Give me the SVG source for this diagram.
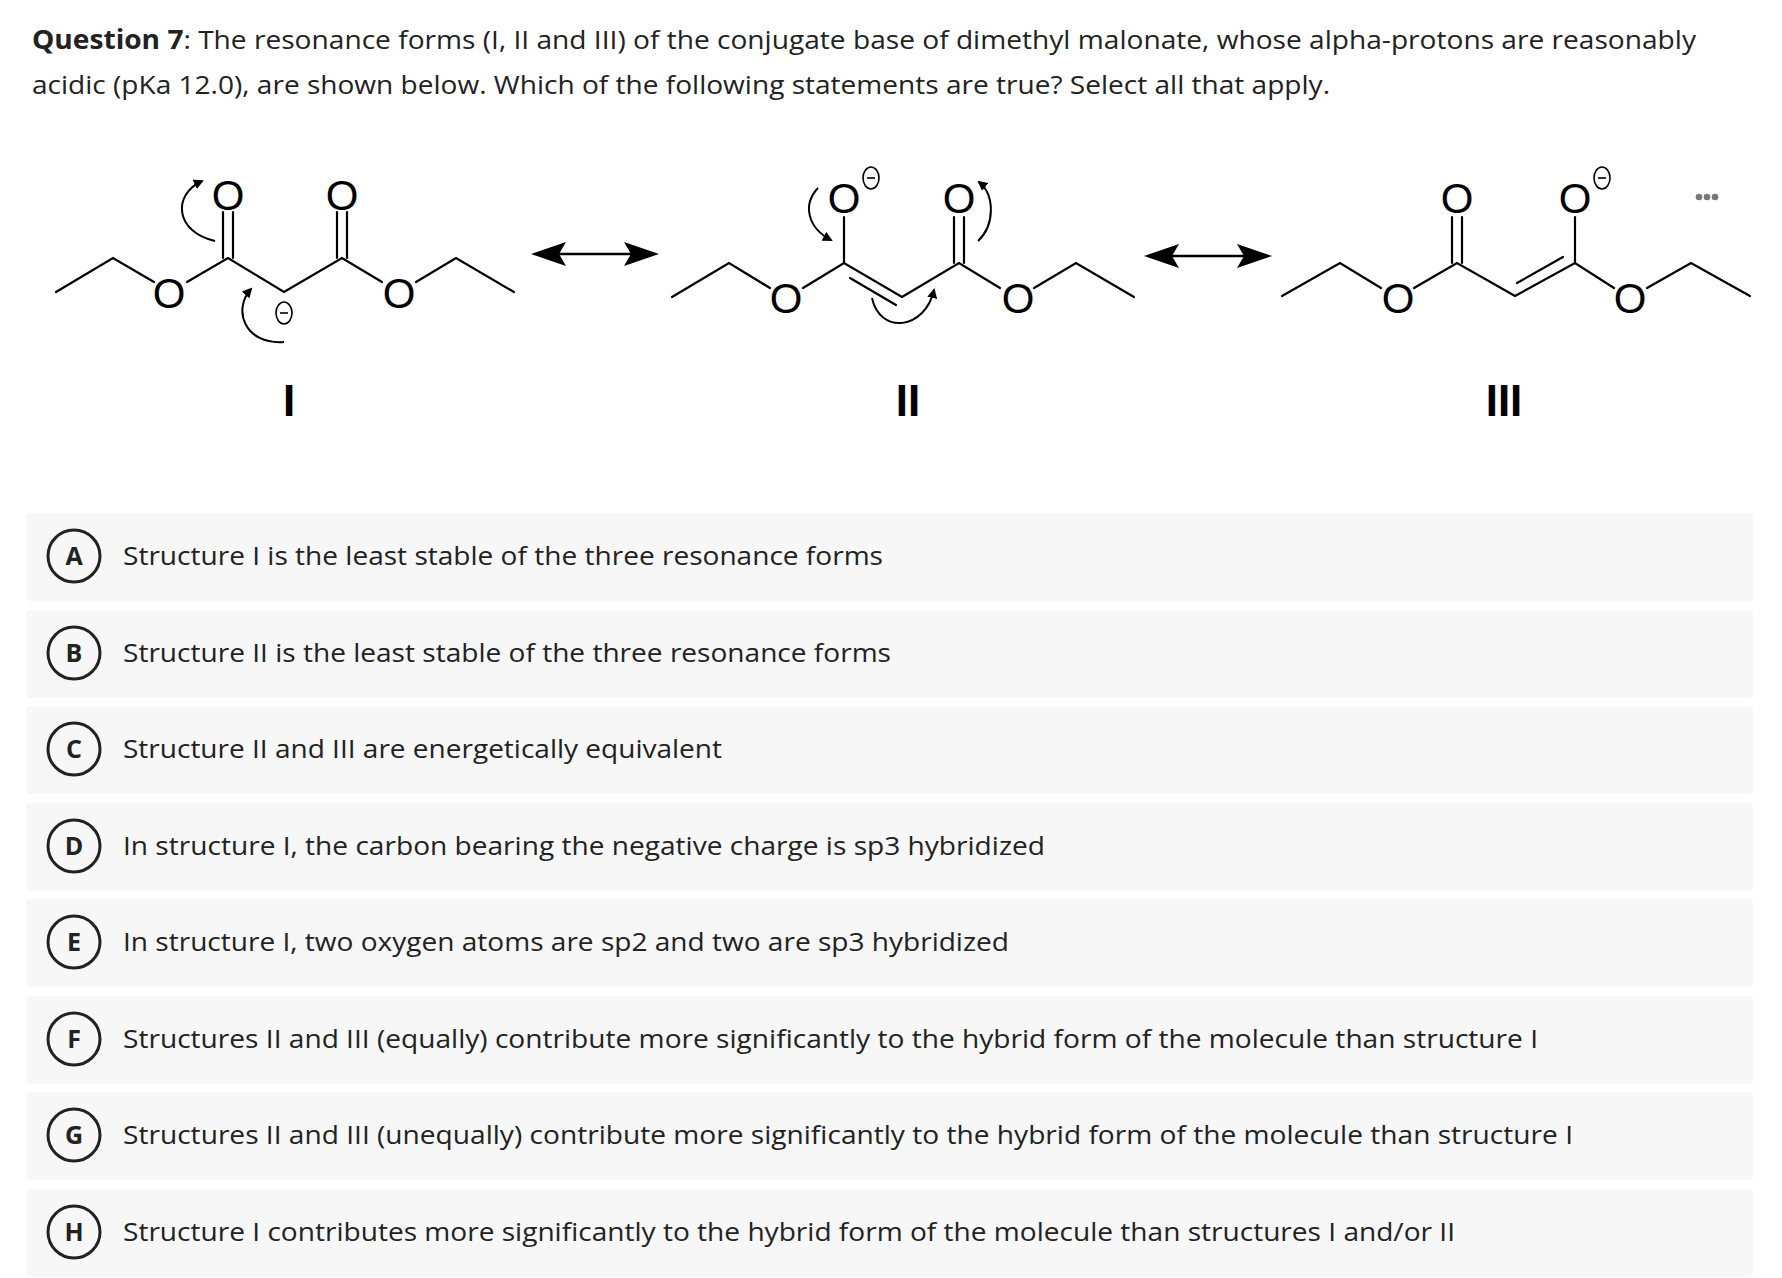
<svg xmlns="http://www.w3.org/2000/svg" width="1782" height="1278" viewBox="0 0 1782 1278">
<style>
.t{font-family:"Open Sans","Liberation Sans",sans-serif;fill:#222}
.b{stroke:#000;stroke-width:2.2;fill:none;stroke-linecap:round}
.o{font-family:"Liberation Sans",Arial,sans-serif;font-size:42px;fill:#000;text-anchor:middle}
.lbl{font-family:"Liberation Sans",Arial,sans-serif;font-size:44px;font-weight:bold;fill:#000;text-anchor:middle}
.box{fill:#f7f7f7}
.circ{fill:none;stroke:#222;stroke-width:3}
.let{font-family:"Open Sans","Liberation Sans",sans-serif;font-size:25px;font-weight:bold;fill:#222;text-anchor:middle}
.opt{font-family:"Open Sans","Liberation Sans",sans-serif;font-size:25px;fill:#222}
.ch{fill:none;stroke:#000;stroke-width:1.6}
.cur{stroke:#000;stroke-width:2;fill:none;marker-end:url(#ah)}
</style>
<defs>
<marker id="ah" viewBox="0 0 10 10" refX="8" refY="5" markerWidth="5" markerHeight="5" orient="auto" markerUnits="strokeWidth"><path d="M0,0 L10,5 L0,10 z" fill="#000"/></marker>
</defs>
<rect width="1782" height="1278" fill="#fff"/>
<g id="header">
<text class="t" x="32" y="49" font-size="26" textLength="1664" lengthAdjust="spacingAndGlyphs"><tspan font-weight="bold">Question 7</tspan>: The resonance forms (I, II and III) of the conjugate base of dimethyl malonate, whose alpha-protons are reasonably</text>
<text class="t" x="32" y="94" font-size="26" textLength="1298" lengthAdjust="spacingAndGlyphs">acidic (pKa 12.0), are shown below. Which of the following statements are true? Select all that apply.</text>
</g>
<g id="structure-I">
<path class="b" d="M56,292 L113,258 L154,282 M187,282 L228,258 L284,292 L342,258 L382,282 M416,282 L456,258 L514,292"/>
<path class="b" d="M223,258 V212 M233,258 V212 M337,258 V212 M347,258 V212"/>
<text class="o" x="228" y="210">O</text><text class="o" x="342" y="210">O</text>
<text class="o" x="169" y="308">O</text><text class="o" x="399" y="308">O</text>
<ellipse class="ch" cx="284" cy="313" rx="8" ry="11"/><line x1="280" y1="313" x2="288" y2="313" stroke="#000" stroke-width="1.6"/>
<path class="cur" d="M215,241 C175,232 172,195 202,181"/>
<path class="cur" d="M284,342 C245,345 232,310 251,289"/>
<text class="lbl" x="289" y="416">I</text>
</g>
<g id="structure-II">
<path class="b" d="M672,297 L729,263 L770,288 M803,288 L844,263 L902,297 L959,263 L1000,288 M1034,288 L1076,263 L1134,297"/>
<path class="b" d="M844,263 V217 M850,278 L896,305 M954,263 V217 M964,263 V217"/>
<text class="o" x="844" y="213">O</text><text class="o" x="959" y="213">O</text>
<text class="o" x="786" y="313">O</text><text class="o" x="1018" y="313">O</text>
<ellipse class="ch" cx="871" cy="178" rx="8" ry="11"/><line x1="867" y1="178" x2="875" y2="178" stroke="#000" stroke-width="1.6"/>
<path class="cur" d="M818,188 C802,205 808,228 831,240"/>
<path class="cur" d="M872,298 C880,335 925,330 934,290"/>
<path class="cur" d="M978,241 C995,225 995,195 979,182"/>
<text class="lbl" x="908" y="416">II</text>
</g>
<g id="structure-III">
<path class="b" d="M1282,296 L1340,263 L1381,288 M1414,288 L1457,263 L1515,296 L1575,263 L1614,288 M1647,288 L1691,263 L1750,296"/>
<path class="b" d="M1452,263 V217 M1462,263 V217 M1575,263 V217 M1517,283 L1563,257"/>
<text class="o" x="1457" y="213">O</text><text class="o" x="1575" y="213">O</text>
<text class="o" x="1398" y="313">O</text><text class="o" x="1630" y="313">O</text>
<ellipse class="ch" cx="1602" cy="178" rx="8" ry="11"/><line x1="1598" y1="178" x2="1606" y2="178" stroke="#000" stroke-width="1.6"/>
<text class="lbl" x="1504" y="416">III</text>
<g fill="#777"><circle cx="1699" cy="197" r="3.3"/><circle cx="1707" cy="197" r="3.3"/><circle cx="1715" cy="197" r="3.3"/></g>
</g>
<g id="connectors">
<line x1="550" y1="254" x2="640" y2="254" stroke="#000" stroke-width="2.5"/>
<path d="M531,254 L566,242 L559,254 L566,266 z M659,254 L624,242 L631,254 L624,266 z" fill="#000"/>
<line x1="1163" y1="256" x2="1253" y2="256" stroke="#000" stroke-width="2.5"/>
<path d="M1144,256 L1179,244 L1172,256 L1179,268 z M1272,256 L1237,244 L1244,256 L1237,268 z" fill="#000"/>
</g>
<g id="options">
<g id="opt-A"><rect class="box" x="26" y="513" width="1727" height="88" rx="4"/><circle class="circ" cx="74" cy="556" r="26"/><text class="let" x="74" y="565">A</text><text class="opt" x="123" y="565" textLength="760" lengthAdjust="spacingAndGlyphs">Structure I is the least stable of the three resonance forms</text></g>
<g id="opt-B"><rect class="box" x="26" y="610" width="1727" height="88" rx="4"/><circle class="circ" cx="74" cy="653" r="26"/><text class="let" x="74" y="662">B</text><text class="opt" x="123" y="662" textLength="768" lengthAdjust="spacingAndGlyphs">Structure II is the least stable of the three resonance forms</text></g>
<g id="opt-C"><rect class="box" x="26" y="706" width="1727" height="88" rx="4"/><circle class="circ" cx="74" cy="749" r="26"/><text class="let" x="74" y="758">C</text><text class="opt" x="123" y="758" textLength="599" lengthAdjust="spacingAndGlyphs">Structure II and III are energetically equivalent</text></g>
<g id="opt-D"><rect class="box" x="26" y="803" width="1727" height="88" rx="4"/><circle class="circ" cx="74" cy="846" r="26"/><text class="let" x="74" y="855">D</text><text class="opt" x="123" y="855" textLength="922" lengthAdjust="spacingAndGlyphs">In structure I, the carbon bearing the negative charge is sp3 hybridized</text></g>
<g id="opt-E"><rect class="box" x="26" y="899" width="1727" height="88" rx="4"/><circle class="circ" cx="74" cy="942" r="26"/><text class="let" x="74" y="951">E</text><text class="opt" x="123" y="951" textLength="886" lengthAdjust="spacingAndGlyphs">In structure I, two oxygen atoms are sp2 and two are sp3 hybridized</text></g>
<g id="opt-F"><rect class="box" x="26" y="996" width="1727" height="88" rx="4"/><circle class="circ" cx="74" cy="1039" r="26"/><text class="let" x="74" y="1048">F</text><text class="opt" x="123" y="1048" textLength="1415" lengthAdjust="spacingAndGlyphs">Structures II and III (equally) contribute more significantly to the hybrid form of the molecule than structure I</text></g>
<g id="opt-G"><rect class="box" x="26" y="1092" width="1727" height="88" rx="4"/><circle class="circ" cx="74" cy="1135" r="26"/><text class="let" x="74" y="1144">G</text><text class="opt" x="123" y="1144" textLength="1450" lengthAdjust="spacingAndGlyphs">Structures II and III (unequally) contribute more significantly to the hybrid form of the molecule than structure I</text></g>
<g id="opt-H"><rect class="box" x="26" y="1189" width="1727" height="88" rx="4"/><circle class="circ" cx="74" cy="1232" r="26"/><text class="let" x="74" y="1241">H</text><text class="opt" x="123" y="1241" textLength="1332" lengthAdjust="spacingAndGlyphs">Structure I contributes more significantly to the hybrid form of the molecule than structures I and/or II</text></g>
</g>
</svg>
